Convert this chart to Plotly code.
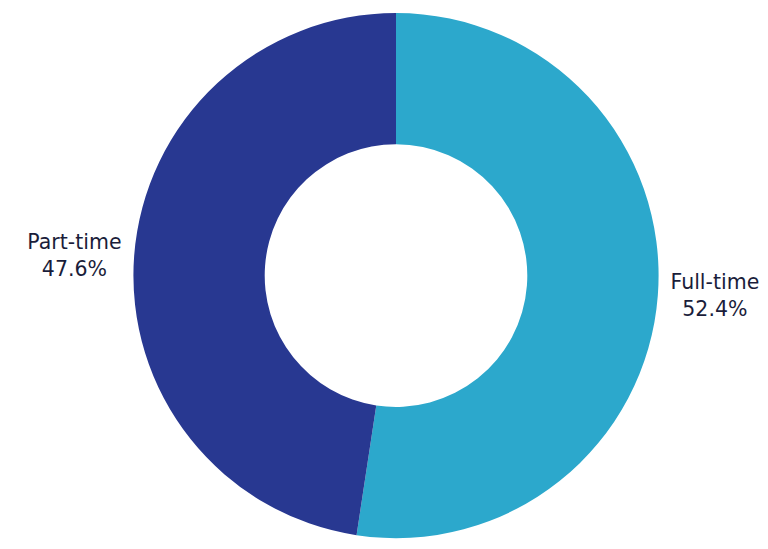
import plotly.graph_objects as go

labels = ["Full-time", "Part-time"]
shares = [52.4, 47.6]
colors = ["#2ca8cc", "#283891"]

fig = go.Figure(
    go.Pie(
        labels=labels,
        values=shares,
        hole=0.5,
        sort=False,
        direction="clockwise",
        rotation=0,
        marker=dict(colors=colors),
        texttemplate="%{label}<br>%{value:.1f}%",
        textposition="outside",
        outsidetextfont=dict(family="DejaVu Sans", size=20.5, color="#1a1d3a"),
        showlegend=False,
        domain=dict(x=[123 / 768, 653 / 768], y=[19 / 549, 549 / 549]),
    )
)

fig.update_layout(
    width=768,
    height=549,
    margin=dict(l=0, r=0, t=0, b=0),
    paper_bgcolor="white",
    plot_bgcolor="white",
    font=dict(family="DejaVu Sans"),
)

fig.write_html("out.html")
